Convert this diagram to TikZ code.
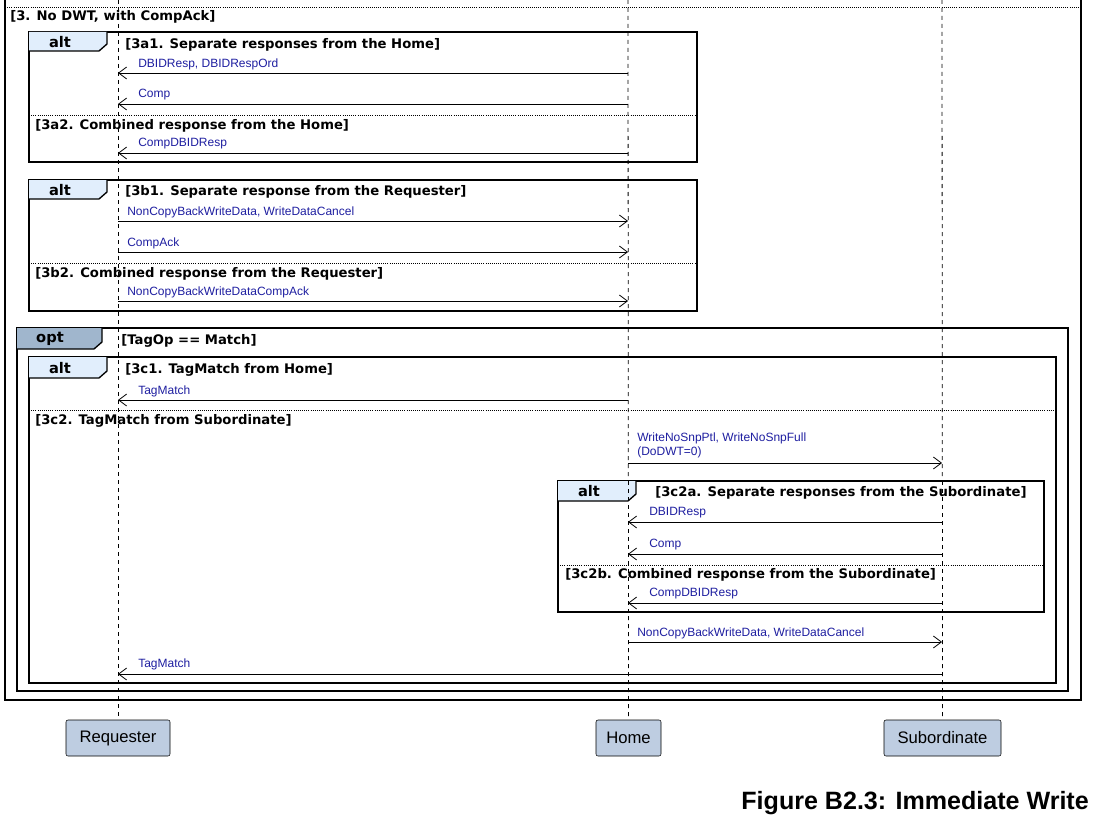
\documentclass[tikz,border=0pt]{standalone}
\usepackage{fontspec}
\setmainfont{Liberation Sans}
\newfontfamily\dv{DejaVu Sans}
\usetikzlibrary{arrows.meta}
\definecolor{msgc}{RGB}{30,30,160}
\definecolor{tabc}{RGB}{225,238,252}
\definecolor{optc}{RGB}{160,182,205}
\definecolor{llc}{RGB}{190,205,225}
\tikzset{
 x=0.75pt,y=-0.75pt,
 frame/.style={draw,line width=1pt},
 sepl/.style={densely dotted,line width=0.6pt},
 lifel/.style={dashed,line width=0.6pt},
 msg/.style={-{Straight Barb[length=6pt,width=9pt]},line width=0.6pt},
 mlab/.style={anchor=west,inner sep=0,text=msgc,font=\fontsize{9}{10.5}\selectfont},
 flab/.style={anchor=west,inner sep=0,yshift=-1.2pt,font=\dv\bfseries\fontsize{9.9}{12}\selectfont},
 tlab/.style={inner sep=0,font=\dv\bfseries\fontsize{11}{12}\selectfont},
 llbox/.style={draw,fill=llc,rounded corners=1.5pt,font=\fontsize{12.5}{14}\selectfont,inner sep=0},
}
\newcommand{\tabshape}[5]{% x1 y1 x2 y2 fill
 \fill[#5] (#1,#2) -- (#3,#2) -- (#3,#4-7) -- (#3-8,#4) -- (#1,#4) -- cycle;
 \draw[line width=1pt] (#1,#4) -- (#3-8,#4) -- (#3,#4-7) -- (#3,#2);}
\begin{document}
\begin{tikzpicture}
\useasboundingbox (0,0) rectangle (1097,817);
% lifelines
\coordinate (rT) at (118,0); \coordinate (hT) at (628,0); \coordinate (sT) at (942,0);
\node[llbox,minimum width=104*0.75pt,minimum height=36*0.75pt] (req) at (118,738) {Requester};
\node[llbox,minimum width=65*0.75pt,minimum height=36*0.75pt] (home) at (628.5,738) {Home};
\node[llbox,minimum width=117*0.75pt,minimum height=36*0.75pt] (sub) at (942.5,738) {Subordinate};
\draw[lifel] (rT) -- (req.north);
\draw[lifel] (hT) -- (home.north);
\draw[lifel] (sT) -- (sub.north);
% outer frame
\draw[line width=1pt] (5,-2) -- (5,700) -- (1081,700) -- (1081,-2);
\draw[sepl] (5,7) -- (1081,7);
\node[flab] at (10,15) {[3. No DWT, with CompAck]};
% alt 3a
\draw[frame] (29,32) rectangle (697,162);
\tabshape{29}{32}{107}{51}{tabc}
\node[tlab] at (60,42) {alt};
\node[flab] at (125,43) {[3a1. Separate responses from the Home]};
\draw[sepl] (29,115) -- (697,115);
\node[flab] at (35,124) {[3a2. Combined response from the Home]};
% alt 3b
\draw[frame] (29,180) rectangle (697,311);
\tabshape{29}{180}{107}{199}{tabc}
\node[tlab] at (60,190) {alt};
\node[flab] at (125,190) {[3b1. Separate response from the Requester]};
\draw[sepl] (29,263) -- (697,263);
\node[flab] at (35,272) {[3b2. Combined response from the Requester]};
% opt
\draw[frame] (17,328) rectangle (1068,691);
\tabshape{17}{328}{102}{349}{optc}
\node[tlab] at (50,339) {opt};
\node[flab] at (121,339) {[TagOp == Match]};
% alt 3c
\draw[frame] (29,357) rectangle (1056,683);
\tabshape{29}{357}{107}{378}{tabc}
\node[tlab] at (60,368) {alt};
\node[flab] at (125,368) {[3c1. TagMatch from Home]};
\draw[sepl] (29,410) -- (1056,410);
\node[flab] at (35,419) {[3c2. TagMatch from Subordinate]};
% inner alt
\draw[frame,fill=white] (558,481) rectangle (1044,612);
\tabshape{558}{481}{636}{501}{tabc}
\node[tlab] at (589,491) {alt};
\node[flab] at (655,491) {[3c2a. Separate responses from the Subordinate]};
\draw[sepl] (558,565) -- (1044,565);
\node[flab] at (565,573) {[3c2b. Combined response from the Subordinate]};
\draw[lifel] (628,481) -- (628,612);
\draw[lifel] (942,481) -- (942,612);
% messages
\foreach \y/\t in {73/{DBIDResp, DBIDRespOrd},104/Comp,153/CompDBIDResp,400/TagMatch}{
 \coordinate (a) at (628,\y); \coordinate (b) at (118,\y);
 \draw[msg] (a) -- (b);
 \node[mlab] at (138,\y-9) {\t};}
\foreach \y/\t in {221/{NonCopyBackWriteData, WriteDataCancel},252/CompAck,301/NonCopyBackWriteDataCompAck}{
 \coordinate (a) at (118,\y); \coordinate (b) at (628,\y);
 \draw[msg] (a) -- (b);
 \node[mlab] at (127,\y-9) {\t};}
\coordinate (w1) at (628,463); \coordinate (w2) at (942,463);
\draw[msg] (w1) -- (w2);
\node[mlab,align=left,anchor=north west] at (637,433) {WriteNoSnpPtl, WriteNoSnpFull\\(DoDWT=0)};
\foreach \y/\t in {522/DBIDResp,554/Comp,603/CompDBIDResp}{
 \coordinate (a) at (942,\y); \coordinate (b) at (628,\y);
 \draw[msg] (a) -- (b);
 \node[mlab] at (649,\y-9) {\t};}
\coordinate (n1) at (628,642); \coordinate (n2) at (942,642);
\draw[msg] (n1) -- (n2);
\node[mlab] at (637,633) {NonCopyBackWriteData, WriteDataCancel};
\coordinate (t1) at (942,674); \coordinate (t2) at (118,674);
\draw[msg] (t1) -- (t2);
\node[mlab] at (138,664) {TagMatch};
% caption
\node[anchor=east,inner sep=0,font=\bfseries\fontsize{18.8}{21}\selectfont] (cap) at (1089,803) {Figure B2.3: Immediate Write};
\end{tikzpicture}
\end{document}
